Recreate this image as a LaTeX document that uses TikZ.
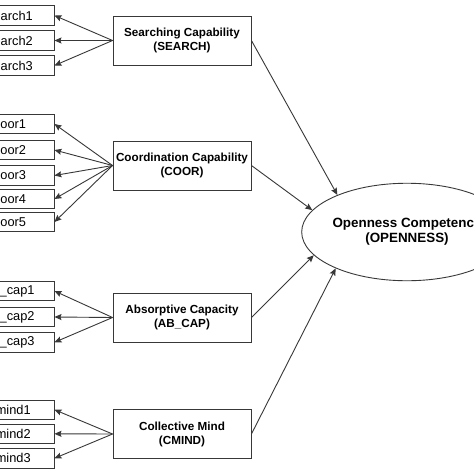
\documentclass[tikz,border=0pt]{standalone}
\usepackage{fontspec}
\setmainfont{Liberation Sans}
\usetikzlibrary{arrows.meta,shapes.geometric}
\definecolor{ln}{HTML}{383838}
\tikzset{
  item/.style={draw=ln, line width=0.9pt, minimum width=88pt, minimum height=19.5pt, inner sep=0pt,
    font=\fontsize{12.8}{14}\selectfont},
  factor/.style={draw=ln, line width=0.9pt, minimum width=138pt, minimum height=49pt, inner sep=0pt,
    align=center, font=\fontsize{11.7}{14}\selectfont\bfseries},
  outcome/.style={ellipse, draw=ln, line width=0.9pt, minimum width=197pt, minimum height=97.5pt, inner sep=0pt,
    align=center, font=\fontsize{13.4}{15.3}\selectfont\bfseries},
  arr/.style={draw=ln, line width=0.9pt, -{Stealth[length=7pt,width=6pt,inset=1pt]}}
}
\begin{document}
\begin{tikzpicture}[x=1pt,y=-1pt]
\useasboundingbox (0,0) rectangle (474,474);
\fill[white] (0,0) rectangle (474,474);
% left indicator boxes
\node[item] (s1) at (10,15.5) {search1};
\node[item] (s2) at (10,40.5) {search2};
\node[item] (s3) at (10,65.5) {search3};
\node[item] (c1) at (10,124) {coor1};
\node[item] (c2) at (10,150) {coor2};
\node[item] (c3) at (10,175.5) {coor3};
\node[item] (c4) at (10,199) {coor4};
\node[item] (c5) at (10,222) {coor5};
\node[item] (a1) at (10,291) {ab\_cap1};
\node[item] (a2) at (10,317) {ab\_cap2};
\node[item] (a3) at (10,342.3) {ab\_cap3};
\node[item] (m1) at (10,409.7) {cmind1};
\node[item] (m2) at (10,433.8) {cmind2};
\node[item] (m3) at (10,458.3) {cmind3};
% factor boxes
\node[factor] (search) at (182,40.5) {Searching Capability\\(SEARCH)};
\node[factor] (coor) at (182,165.5) {Coordination Capability\\(COOR)};
\node[factor] (ab) at (182,317.5) {Absorptive Capacity\\(AB\_CAP)};
\node[factor] (cm) at (182,434) {Collective Mind\\(CMIND)};
% outcome
\node[outcome] (open) at (407,232) {Openness Competency\\(OPENNESS)};
% loadings
\foreach \t in {s1,s2,s3} \draw[arr] (search.west) -- (\t.east);
\foreach \t in {c1,c2,c3,c4,c5} \draw[arr] (coor.west) -- (\t.east);
\foreach \t in {a1,a2,a3} \draw[arr] (ab.west) -- (\t.east);
\foreach \t in {m1,m2,m3} \draw[arr] (cm.west) -- (\t.east);
% structural paths
\draw[arr] (search.east) -- (open.152.9);
\draw[arr] (coor.east) -- (open.167.1);
\draw[arr] (ab.east) -- (open.194.5);
\draw[arr] (cm.east) -- (open.207.7);
\end{tikzpicture}
\end{document}
